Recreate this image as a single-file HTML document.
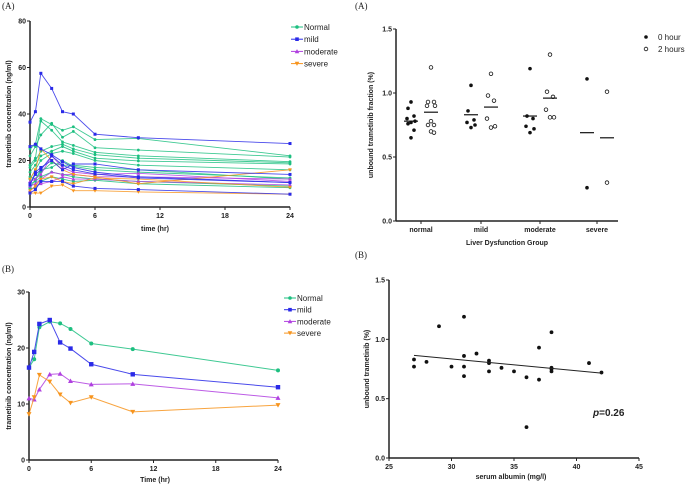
<!DOCTYPE html>
<html><head><meta charset="utf-8"><style>
body{margin:0;background:#fff}
svg{display:block;font-family:"Liberation Sans",Arial,sans-serif}
.t{font-size:7px;font-weight:bold;fill:#222}
.lg{font-size:8px;fill:#222}
.pl{font-family:"Liberation Serif",serif;font-size:9px;fill:#222}
</style></head><body>
<svg id="s" width="685" height="484" viewBox="0 0 685 484">
<text class="pl" x="2" y="9">(A)</text>
<text class="pl" x="2" y="272">(B)</text>
<text class="pl" x="355" y="9">(A)</text>
<text class="pl" x="355" y="258">(B)</text>
</svg>
<script>
const times=[0,0.5,1,2,3,4,6,10,24];
const normalLines=[[25,27,38,35.5,33,34.5,29,29.5,22],[22,26,31,36,30,32.5,25.5,24.5,21.5],[18,21,37,33,28,26.5,23.5,22,19.5],[17,20,24,26,27,25,22.5,21,19],[15,18,22,24,26,24,21,19.8,18.5],[12,16,20,23,24,23,20,18,16],[13,12,15,19,18,18,17,16,12],[8,12,16,17,20,17.5,16,15,12.5],[10,11,13,15,14,13,12,11,9],[8,8,11,13,12,11,11.5,10,8.3]];
const mildLines=[[36.5,41,57.5,51,41,40,31.3,29.8,27.3],[9.5,15,17,20,16,18.5,18.5,16,14],[6,7.5,11,11,11,9,8,7.5,5.5],[26,27,25,22.5,19.5,17,15,13,10.5],[10,14,16,22,18,16,14.2,12.5,10.5]];
const moderateLines=[[11,12,14,22,17,15,14,14.5,11],[9,10,12,15,14,14,13,13,12],[7,9,10,11,13,12,12,11,9.5]];
const severeLines=[[12,16,25,20,16,14,13,10,16],[7,9,12,13,11,10,12.5,12,8.5],[6,6,6,9,9.5,7,7,6.5,5.5]];
const meanNormal=[16.5,18,23.7,24.7,24.4,23.4,20.8,19.8,16];
const meanMild=[16.5,19.3,24.3,25,21,19.9,17.1,15.3,13];
const meanModerate=[11,10.8,12.6,15.3,15.4,14.1,13.5,13.6,11.1];
const meanSevere=[8.2,11.2,15.2,14,11.7,10.2,11.2,8.6,9.8];
const timeTicks=[0,6,12,18,24];
const concTicksA=[0,20,40,60,80];
const concTicksB=[0,10,20,30];
const groups=["normal","mild","moderate","severe"];
const hour0=[[0.93,0.88,0.82,0.80,0.78,0.77,0.76,0.71,0.65],[1.06,0.86,0.79,0.77,0.75,0.73],[1.19,0.82,0.80,0.74,0.72,0.69],[1.11,0.26]];
const hour2=[[1.20,0.93,0.93,0.90,0.90,0.78,0.75,0.75,0.70,0.69],[1.15,0.98,0.94,0.80,0.74,0.73],[1.30,1.01,0.97,0.87,0.81,0.81],[1.01,0.30]];
const mean0=[0.78,0.83,0.82,0.69];
const mean2=[0.85,0.89,0.96,0.65];
const fracTicks=[0,0.5,1.0,1.5];
const albumin=[27,27,28,29,30,31,31,31,31,32,33,33,33,34,35,36,36,37,37,38,38,38,38,41,42];
const unbound=[0.83,0.77,0.81,1.11,0.77,1.19,0.86,0.77,0.69,0.88,0.82,0.80,0.73,0.76,0.73,0.68,0.26,0.93,0.66,1.06,0.76,0.75,0.73,0.80,0.72];
const albTicks=[25,30,35,40,45];
const fitStart=[27,0.865], fitEnd=[42,0.715];

const S=document.getElementById('s'),NS="http://www.w3.org/2000/svg";
function mk(tag,at,parent){const e=document.createElementNS(NS,tag);for(const k in at)e.setAttribute(k,at[k]);(parent||S).appendChild(e);return e;}
function lin(d0,d1,r0,r1){return v=>r0+(v-d0)*(r1-r0)/(d1-d0);}
function axes(x0,x1,y0,y1,xs,ys,xt,yt,xfmt,yfmt,pre){
  let e=mk('line',{x1:x0,y1:y0,x2:x0,y2:y1,stroke:'#222','stroke-width':1.5});
  
  e=mk('line',{x1:x0,y1:y0,x2:x1,y2:y0,stroke:'#222','stroke-width':1.5});
  
  yt.forEach(v=>{const y=ys(v);mk('line',{x1:x0-3,y1:y,x2:x0,y2:y,stroke:'#222','stroke-width':1});
    e=mk('text',{x:x0-4,y:y+2.5,'text-anchor':'end',class:'t'});e.textContent=yfmt(v);
    });
  xt.forEach(v=>{const x=xs(v);mk('line',{x1:x,y1:y0,x2:x,y2:y0+3,stroke:'#222','stroke-width':1});
    e=mk('text',{x:x,y:y0+11,'text-anchor':'middle',class:'t'});e.textContent=xfmt(v);
    });
}
function title(x,y,txt,rot,name){const e=mk('text',{x:x,y:y,'text-anchor':'middle',class:'t',transform:rot?`rotate(-90 ${x} ${y})`:''});e.textContent=txt;
  }
function marker(x,y,c,shape,sz){
  if(shape==='sq')return mk('rect',{x:x-sz,y:y-sz,width:2*sz,height:2*sz,fill:c});
  if(shape==='up')return mk('polygon',{points:`${x},${y-sz-0.5} ${x-sz-0.5},${y+sz} ${x+sz+0.5},${y+sz}`,fill:c});
  if(shape==='dn')return mk('polygon',{points:`${x},${y+sz+0.5} ${x-sz-0.5},${y-sz} ${x+sz+0.5},${y-sz}`,fill:c});
  return mk('circle',{cx:x,cy:y,r:sz,fill:c});
}
const cols={normal:'#1dbf80',mild:'#2a2ae8',moderate:'#b040e0',severe:'#f7941d'};
const shapes={normal:'ci',mild:'sq',moderate:'up',severe:'dn'};
function series(xs,ys,vals,c,shape,sz,name,w){
  const pts=times.map((t,i)=>xs(t)+','+ys(vals[i])).join(' ');
  let e=mk('polyline',{points:pts,fill:'none',stroke:c,'stroke-width':w,'stroke-opacity':0.85});
  
  times.forEach((t,i)=>{e=marker(xs(t),ys(vals[i]),c,shape,sz);
    });
}
function legend(x,y0,dy,tx,name){['Normal','mild','moderate','severe'].forEach((n,i)=>{const k=n.toLowerCase(),y=y0+i*dy;
  mk('line',{x1:x-6,y1:y,x2:x+6,y2:y,stroke:cols[k],'stroke-width':1});
  let e=marker(x,y,cols[k],shapes[k],1.8);
  e=mk('text',{x:tx,y:y+3,class:'lg'});e.textContent=n;});}

// Panel A left
{const xs=lin(0,24,30,290),ys=lin(0,80,207,21);
 axes(30,290,207,21,xs,ys,timeTicks,concTicksA,v=>v,v=>v,'individual');
 title(155,231,'time (hr)',false,'individual-x-axis-title');title(11,114,'trametinib concentration (ng/ml)',true,'individual-y-axis-title');
 normalLines.forEach(v=>series(xs,ys,v,cols.normal,'ci',1.4,'normal-patient',0.9));
 moderateLines.forEach(v=>series(xs,ys,v,cols.moderate,'up',1.4,'moderate-patient',0.9));
 severeLines.forEach(v=>series(xs,ys,v,cols.severe,'dn',1.4,'severe-patient',0.9));
 mildLines.forEach(v=>series(xs,ys,v,cols.mild,'sq',1.5,'mild-patient',0.9));
 legend(297,27,12.2,304,'individual');}
// Panel B left
{const xs=lin(0,24,29,278),ys=lin(0,30,460,292);
 axes(29,278,460,292,xs,ys,timeTicks,concTicksB,v=>v,v=>v,'mean');
 title(155,482,'Time (hr)',false,'mean-x-axis-title');title(11,376,'trametinib concentration (ng/ml)',true,'mean-y-axis-title');
 series(xs,ys,meanNormal,cols.normal,'ci',2,'normal-mean',1);
 series(xs,ys,meanMild,cols.mild,'sq',2.2,'mild-mean',1);
 series(xs,ys,meanModerate,cols.moderate,'up',2,'moderate-mean',1);
 series(xs,ys,meanSevere,cols.severe,'dn',2,'severe-mean',1);
 legend(290,298,11.7,297,'mean');}
// Panel A right
{const cx=[421,481,540,597],ys=lin(0,1.5,221,29);
 axes(396,618,221,29,i=>cx[i],ys,[0,1,2,3],fracTicks,i=>groups[i],v=>v.toFixed(1),'fraction');
 title(507,245,'Liver Dysfunction Group',false,'fraction-x-axis-title');title(373,125,'unbound trametinib fraction (%)',true,'fraction-y-axis-title');
 const jit=[0,-3,3,-4,4,0,-3,3,0,3];
 groups.forEach((g,i)=>{
  hour0[i].forEach((v,j)=>{const e=mk('circle',{cx:cx[i]-10+(hour0[i].length>2?jit[j]:0),cy:ys(v),r:1.8,fill:'#111'});
   });
  hour2[i].forEach((v,j)=>{const e=mk('circle',{cx:cx[i]+10+(hour2[i].length>2?jit[j]:0),cy:ys(v),r:1.8,fill:'#fff',stroke:'#111','stroke-width':0.8});
   });
  let e=mk('line',{x1:cx[i]-17,x2:cx[i]-3,y1:ys(mean0[i]),y2:ys(mean0[i]),stroke:'#111','stroke-width':1.2});
  
  e=mk('line',{x1:cx[i]+3,x2:cx[i]+17,y1:ys(mean2[i]),y2:ys(mean2[i]),stroke:'#111','stroke-width':1.2});
  });
 let e=mk('circle',{cx:646,cy:37,r:1.8,fill:'#111'});
 e=mk('text',{x:658,y:40,class:'lg'});e.textContent='0 hour';
 e=mk('circle',{cx:646,cy:49,r:1.8,fill:'#fff',stroke:'#111','stroke-width':0.8});
 e=mk('text',{x:658,y:52,class:'lg'});e.textContent='2 hours';}
// Panel B right
{const xs=lin(25,45,389,639),ys=lin(0,1.5,458,280);
 axes(389,639,458,280,xs,ys,albTicks,fracTicks,v=>v,v=>v.toFixed(1),'albumin');
 title(511,479,'serum albumin (mg/l)',false,'albumin-x-axis-title');title(369,369,'unbound trametinib (%)',true,'albumin-y-axis-title');
 albumin.forEach((a,i)=>{const e=mk('circle',{cx:xs(a),cy:ys(unbound[i]),r:1.9,fill:'#111'});
  });
 let e=mk('line',{x1:xs(fitStart[0]),y1:ys(fitStart[1]),x2:xs(fitEnd[0]),y2:ys(fitEnd[1]),stroke:'#222','stroke-width':1});
 
 e=mk('text',{x:593,y:416,style:'font-size:10px;font-weight:bold;fill:#222'});
 e.innerHTML='<tspan font-style="italic">p</tspan>=0.26';}
</script>
</body></html>
